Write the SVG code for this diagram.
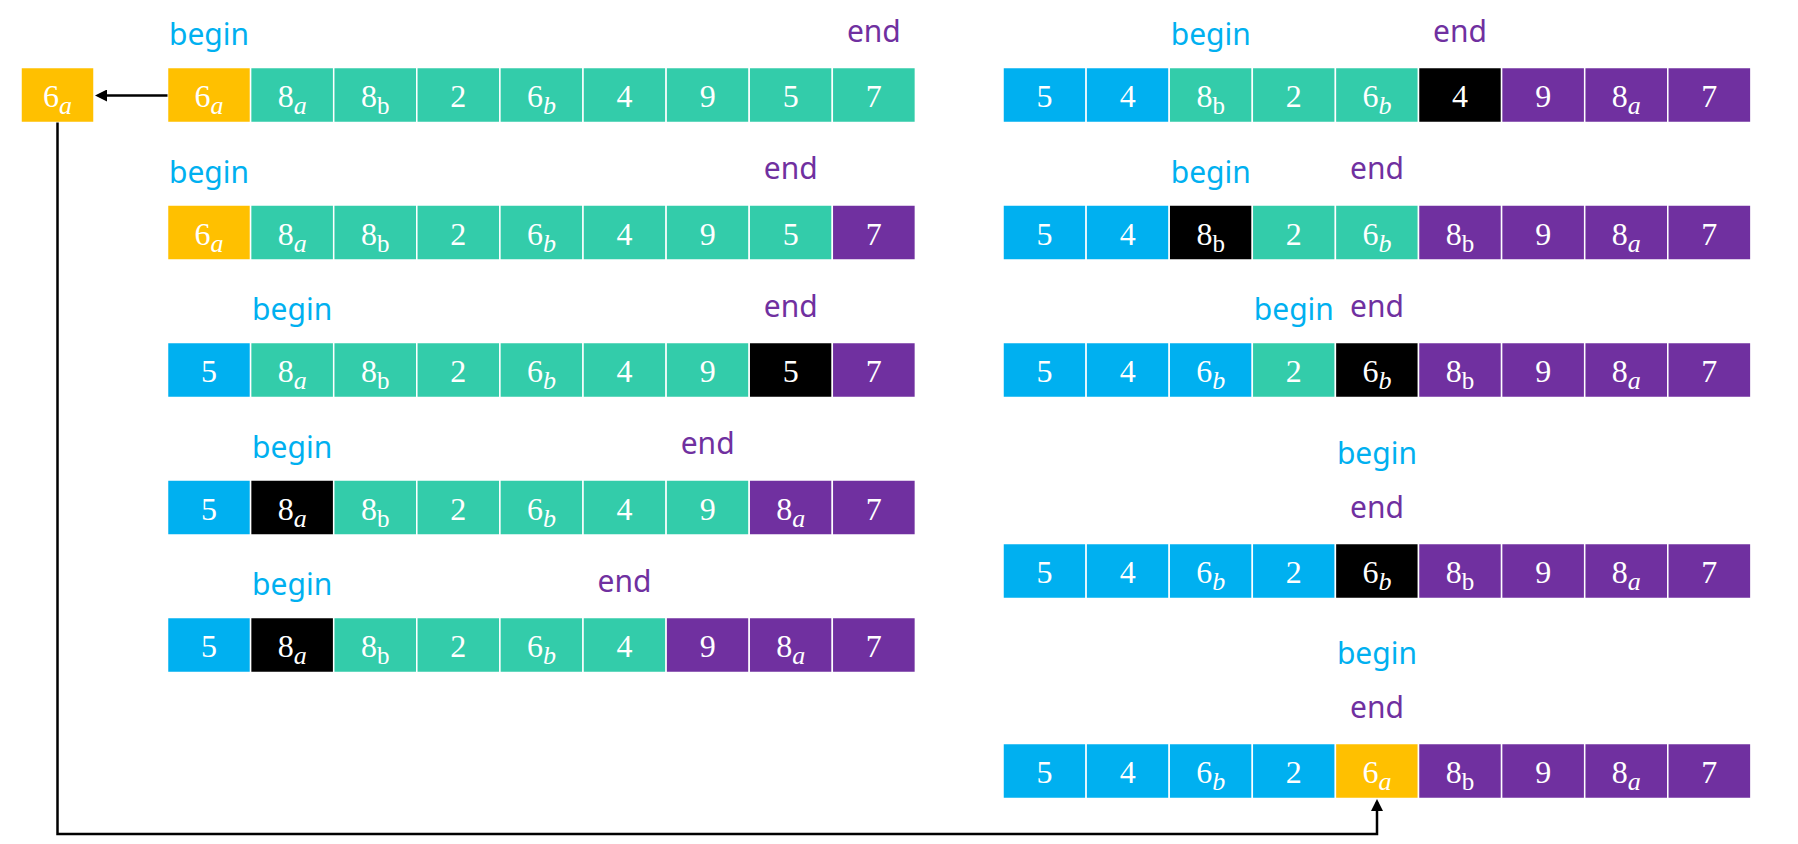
<svg xmlns="http://www.w3.org/2000/svg" width="1798" height="844" viewBox="0 0 1798 844">
<style>
rect.c{stroke:#fff;stroke-width:1.5}
.O{fill:#FFC000}.T{fill:#33CCAA}.B{fill:#00B0F0}.P{fill:#7030A0}.K{fill:#000}
text.n{font-family:"Cambria Math","Liberation Serif",serif;font-size:32px;fill:#fff;text-anchor:middle}
tspan.i{font-style:italic;font-size:26px}
tspan.u{font-size:25px}
text.bg{font-family:"Noto Sans",sans-serif;font-size:30px;fill:#00B0F0;text-anchor:middle}
text.ed{font-family:"Noto Sans",sans-serif;font-size:30px;fill:#7030A0;text-anchor:middle}
.ln{fill:none;stroke:#000;stroke-width:2.5}
</style>
<defs>
<marker id="ah" markerUnits="userSpaceOnUse" markerWidth="14" markerHeight="12" refX="9" refY="6" orient="auto">
<path d="M0,0 L12,6 L0,12 z" fill="#000"/>
</marker>
</defs>
<rect width="1798" height="844" fill="#fff"/>

<g id="pivot">
<rect class="c O" x="21" y="67.5" width="73" height="55"/>
<text class="n" x="57.5" y="107">6<tspan class="i" dy="7">a</tspan></text>
</g>

<g id="L1" transform="translate(167.5,67.5)">
<rect class="c O" x="0" width="83.1" height="55"/><rect class="c T" x="83.1" width="83.1" height="55"/><rect class="c T" x="166.2" width="83.1" height="55"/><rect class="c T" x="249.3" width="83.1" height="55"/><rect class="c T" x="332.4" width="83.1" height="55"/><rect class="c T" x="415.5" width="83.1" height="55"/><rect class="c T" x="498.6" width="83.1" height="55"/><rect class="c T" x="581.7" width="83.1" height="55"/><rect class="c T" x="664.8" width="83.1" height="55"/>
<text class="n" x="41.55" y="39.5">6<tspan class="i" dy="7">a</tspan></text>
<text class="n" x="124.65" y="39.5">8<tspan class="i" dy="7">a</tspan></text>
<text class="n" x="207.75" y="39.5">8<tspan class="u" dy="7">b</tspan></text>
<text class="n" x="290.85" y="39.5">2</text>
<text class="n" x="373.95" y="39.5">6<tspan class="i" dy="7">b</tspan></text>
<text class="n" x="457.05" y="39.5">4</text>
<text class="n" x="540.15" y="39.5">9</text>
<text class="n" x="623.25" y="39.5">5</text>
<text class="n" x="706.35" y="39.5">7</text>
<text class="bg" x="41.55" y="-22.5">begin</text>
<text class="ed" x="706.35" y="-26">end</text>
</g>

<g id="L2" transform="translate(167.5,205)">
<rect class="c O" x="0" width="83.1" height="55"/><rect class="c T" x="83.1" width="83.1" height="55"/><rect class="c T" x="166.2" width="83.1" height="55"/><rect class="c T" x="249.3" width="83.1" height="55"/><rect class="c T" x="332.4" width="83.1" height="55"/><rect class="c T" x="415.5" width="83.1" height="55"/><rect class="c T" x="498.6" width="83.1" height="55"/><rect class="c T" x="581.7" width="83.1" height="55"/><rect class="c P" x="664.8" width="83.1" height="55"/>
<text class="n" x="41.55" y="39.5">6<tspan class="i" dy="7">a</tspan></text>
<text class="n" x="124.65" y="39.5">8<tspan class="i" dy="7">a</tspan></text>
<text class="n" x="207.75" y="39.5">8<tspan class="u" dy="7">b</tspan></text>
<text class="n" x="290.85" y="39.5">2</text>
<text class="n" x="373.95" y="39.5">6<tspan class="i" dy="7">b</tspan></text>
<text class="n" x="457.05" y="39.5">4</text>
<text class="n" x="540.15" y="39.5">9</text>
<text class="n" x="623.25" y="39.5">5</text>
<text class="n" x="706.35" y="39.5">7</text>
<text class="bg" x="41.55" y="-22.5">begin</text>
<text class="ed" x="623.25" y="-26">end</text>
</g>

<g id="L3" transform="translate(167.5,342.5)">
<rect class="c B" x="0" width="83.1" height="55"/><rect class="c T" x="83.1" width="83.1" height="55"/><rect class="c T" x="166.2" width="83.1" height="55"/><rect class="c T" x="249.3" width="83.1" height="55"/><rect class="c T" x="332.4" width="83.1" height="55"/><rect class="c T" x="415.5" width="83.1" height="55"/><rect class="c T" x="498.6" width="83.1" height="55"/><rect class="c K" x="581.7" width="83.1" height="55"/><rect class="c P" x="664.8" width="83.1" height="55"/>
<text class="n" x="41.55" y="39.5">5</text>
<text class="n" x="124.65" y="39.5">8<tspan class="i" dy="7">a</tspan></text>
<text class="n" x="207.75" y="39.5">8<tspan class="u" dy="7">b</tspan></text>
<text class="n" x="290.85" y="39.5">2</text>
<text class="n" x="373.95" y="39.5">6<tspan class="i" dy="7">b</tspan></text>
<text class="n" x="457.05" y="39.5">4</text>
<text class="n" x="540.15" y="39.5">9</text>
<text class="n" x="623.25" y="39.5">5</text>
<text class="n" x="706.35" y="39.5">7</text>
<text class="bg" x="124.65" y="-22.5">begin</text>
<text class="ed" x="623.25" y="-26">end</text>
</g>

<g id="L4" transform="translate(167.5,480)">
<rect class="c B" x="0" width="83.1" height="55"/><rect class="c K" x="83.1" width="83.1" height="55"/><rect class="c T" x="166.2" width="83.1" height="55"/><rect class="c T" x="249.3" width="83.1" height="55"/><rect class="c T" x="332.4" width="83.1" height="55"/><rect class="c T" x="415.5" width="83.1" height="55"/><rect class="c T" x="498.6" width="83.1" height="55"/><rect class="c P" x="581.7" width="83.1" height="55"/><rect class="c P" x="664.8" width="83.1" height="55"/>
<text class="n" x="41.55" y="39.5">5</text>
<text class="n" x="124.65" y="39.5">8<tspan class="i" dy="7">a</tspan></text>
<text class="n" x="207.75" y="39.5">8<tspan class="u" dy="7">b</tspan></text>
<text class="n" x="290.85" y="39.5">2</text>
<text class="n" x="373.95" y="39.5">6<tspan class="i" dy="7">b</tspan></text>
<text class="n" x="457.05" y="39.5">4</text>
<text class="n" x="540.15" y="39.5">9</text>
<text class="n" x="623.25" y="39.5">8<tspan class="i" dy="7">a</tspan></text>
<text class="n" x="706.35" y="39.5">7</text>
<text class="bg" x="124.65" y="-22.5">begin</text>
<text class="ed" x="540.15" y="-26">end</text>
</g>

<g id="L5" transform="translate(167.5,617.5)">
<rect class="c B" x="0" width="83.1" height="55"/><rect class="c K" x="83.1" width="83.1" height="55"/><rect class="c T" x="166.2" width="83.1" height="55"/><rect class="c T" x="249.3" width="83.1" height="55"/><rect class="c T" x="332.4" width="83.1" height="55"/><rect class="c T" x="415.5" width="83.1" height="55"/><rect class="c P" x="498.6" width="83.1" height="55"/><rect class="c P" x="581.7" width="83.1" height="55"/><rect class="c P" x="664.8" width="83.1" height="55"/>
<text class="n" x="41.55" y="39.5">5</text>
<text class="n" x="124.65" y="39.5">8<tspan class="i" dy="7">a</tspan></text>
<text class="n" x="207.75" y="39.5">8<tspan class="u" dy="7">b</tspan></text>
<text class="n" x="290.85" y="39.5">2</text>
<text class="n" x="373.95" y="39.5">6<tspan class="i" dy="7">b</tspan></text>
<text class="n" x="457.05" y="39.5">4</text>
<text class="n" x="540.15" y="39.5">9</text>
<text class="n" x="623.25" y="39.5">8<tspan class="i" dy="7">a</tspan></text>
<text class="n" x="706.35" y="39.5">7</text>
<text class="bg" x="124.65" y="-22.5">begin</text>
<text class="ed" x="457.05" y="-26">end</text>
</g>

<g id="R1" transform="translate(1003,67.5)">
<rect class="c B" x="0" width="83.1" height="55"/><rect class="c B" x="83.1" width="83.1" height="55"/><rect class="c T" x="166.2" width="83.1" height="55"/><rect class="c T" x="249.3" width="83.1" height="55"/><rect class="c T" x="332.4" width="83.1" height="55"/><rect class="c K" x="415.5" width="83.1" height="55"/><rect class="c P" x="498.6" width="83.1" height="55"/><rect class="c P" x="581.7" width="83.1" height="55"/><rect class="c P" x="664.8" width="83.1" height="55"/>
<text class="n" x="41.55" y="39.5">5</text>
<text class="n" x="124.65" y="39.5">4</text>
<text class="n" x="207.75" y="39.5">8<tspan class="u" dy="7">b</tspan></text>
<text class="n" x="290.85" y="39.5">2</text>
<text class="n" x="373.95" y="39.5">6<tspan class="i" dy="7">b</tspan></text>
<text class="n" x="457.05" y="39.5">4</text>
<text class="n" x="540.15" y="39.5">9</text>
<text class="n" x="623.25" y="39.5">8<tspan class="i" dy="7">a</tspan></text>
<text class="n" x="706.35" y="39.5">7</text>
<text class="bg" x="207.75" y="-22.5">begin</text>
<text class="ed" x="457.05" y="-26">end</text>
</g>

<g id="R2" transform="translate(1003,205)">
<rect class="c B" x="0" width="83.1" height="55"/><rect class="c B" x="83.1" width="83.1" height="55"/><rect class="c K" x="166.2" width="83.1" height="55"/><rect class="c T" x="249.3" width="83.1" height="55"/><rect class="c T" x="332.4" width="83.1" height="55"/><rect class="c P" x="415.5" width="83.1" height="55"/><rect class="c P" x="498.6" width="83.1" height="55"/><rect class="c P" x="581.7" width="83.1" height="55"/><rect class="c P" x="664.8" width="83.1" height="55"/>
<text class="n" x="41.55" y="39.5">5</text>
<text class="n" x="124.65" y="39.5">4</text>
<text class="n" x="207.75" y="39.5">8<tspan class="u" dy="7">b</tspan></text>
<text class="n" x="290.85" y="39.5">2</text>
<text class="n" x="373.95" y="39.5">6<tspan class="i" dy="7">b</tspan></text>
<text class="n" x="457.05" y="39.5">8<tspan class="u" dy="7">b</tspan></text>
<text class="n" x="540.15" y="39.5">9</text>
<text class="n" x="623.25" y="39.5">8<tspan class="i" dy="7">a</tspan></text>
<text class="n" x="706.35" y="39.5">7</text>
<text class="bg" x="207.75" y="-22.5">begin</text>
<text class="ed" x="373.95" y="-26">end</text>
</g>

<g id="R3" transform="translate(1003,342.5)">
<rect class="c B" x="0" width="83.1" height="55"/><rect class="c B" x="83.1" width="83.1" height="55"/><rect class="c B" x="166.2" width="83.1" height="55"/><rect class="c T" x="249.3" width="83.1" height="55"/><rect class="c K" x="332.4" width="83.1" height="55"/><rect class="c P" x="415.5" width="83.1" height="55"/><rect class="c P" x="498.6" width="83.1" height="55"/><rect class="c P" x="581.7" width="83.1" height="55"/><rect class="c P" x="664.8" width="83.1" height="55"/>
<text class="n" x="41.55" y="39.5">5</text>
<text class="n" x="124.65" y="39.5">4</text>
<text class="n" x="207.75" y="39.5">6<tspan class="i" dy="7">b</tspan></text>
<text class="n" x="290.85" y="39.5">2</text>
<text class="n" x="373.95" y="39.5">6<tspan class="i" dy="7">b</tspan></text>
<text class="n" x="457.05" y="39.5">8<tspan class="u" dy="7">b</tspan></text>
<text class="n" x="540.15" y="39.5">9</text>
<text class="n" x="623.25" y="39.5">8<tspan class="i" dy="7">a</tspan></text>
<text class="n" x="706.35" y="39.5">7</text>
<text class="bg" x="290.85" y="-22.5">begin</text>
<text class="ed" x="373.95" y="-26">end</text>
</g>

<g id="R4" transform="translate(1003,543.5)">
<rect class="c B" x="0" width="83.1" height="55"/><rect class="c B" x="83.1" width="83.1" height="55"/><rect class="c B" x="166.2" width="83.1" height="55"/><rect class="c B" x="249.3" width="83.1" height="55"/><rect class="c K" x="332.4" width="83.1" height="55"/><rect class="c P" x="415.5" width="83.1" height="55"/><rect class="c P" x="498.6" width="83.1" height="55"/><rect class="c P" x="581.7" width="83.1" height="55"/><rect class="c P" x="664.8" width="83.1" height="55"/>
<text class="n" x="41.55" y="39.5">5</text>
<text class="n" x="124.65" y="39.5">4</text>
<text class="n" x="207.75" y="39.5">6<tspan class="i" dy="7">b</tspan></text>
<text class="n" x="290.85" y="39.5">2</text>
<text class="n" x="373.95" y="39.5">6<tspan class="i" dy="7">b</tspan></text>
<text class="n" x="457.05" y="39.5">8<tspan class="u" dy="7">b</tspan></text>
<text class="n" x="540.15" y="39.5">9</text>
<text class="n" x="623.25" y="39.5">8<tspan class="i" dy="7">a</tspan></text>
<text class="n" x="706.35" y="39.5">7</text>
<text class="bg" x="373.95" y="-80">begin</text>
<text class="ed" x="373.95" y="-26">end</text>
</g>

<g id="R5" transform="translate(1003,743.5)">
<rect class="c B" x="0" width="83.1" height="55"/><rect class="c B" x="83.1" width="83.1" height="55"/><rect class="c B" x="166.2" width="83.1" height="55"/><rect class="c B" x="249.3" width="83.1" height="55"/><rect class="c O" x="332.4" width="83.1" height="55"/><rect class="c P" x="415.5" width="83.1" height="55"/><rect class="c P" x="498.6" width="83.1" height="55"/><rect class="c P" x="581.7" width="83.1" height="55"/><rect class="c P" x="664.8" width="83.1" height="55"/>
<text class="n" x="41.55" y="39.5">5</text>
<text class="n" x="124.65" y="39.5">4</text>
<text class="n" x="207.75" y="39.5">6<tspan class="i" dy="7">b</tspan></text>
<text class="n" x="290.85" y="39.5">2</text>
<text class="n" x="373.95" y="39.5">6<tspan class="i" dy="7">a</tspan></text>
<text class="n" x="457.05" y="39.5">8<tspan class="u" dy="7">b</tspan></text>
<text class="n" x="540.15" y="39.5">9</text>
<text class="n" x="623.25" y="39.5">8<tspan class="i" dy="7">a</tspan></text>
<text class="n" x="706.35" y="39.5">7</text>
<text class="bg" x="373.95" y="-80">begin</text>
<text class="ed" x="373.95" y="-26">end</text>
</g>

<g id="connectors">
<path class="ln" d="M167.5,95.5 H98" marker-end="url(#ah)"/>
<path class="ln" d="M57.5,122.5 V834 H1377 V802" marker-end="url(#ah)"/>
</g>
</svg>
